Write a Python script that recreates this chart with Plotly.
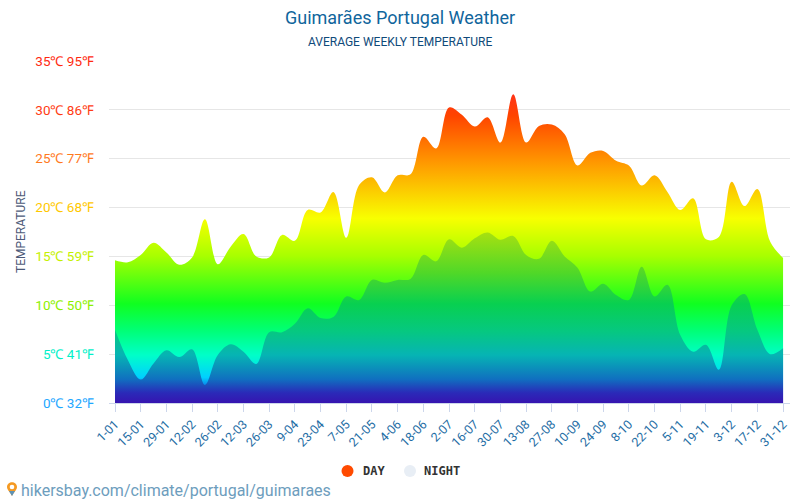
import plotly.graph_objects as go

weeks = ["1-01", "8-01", "15-01", "22-01", "29-01", "5-02", "12-02", "19-02", "26-02", "5-03",
         "12-03", "19-03", "26-03", "2-04", "9-04", "16-04", "23-04", "30-04", "7-05", "14-05",
         "21-05", "28-05", "4-06", "11-06", "18-06", "25-06", "2-07", "9-07", "16-07", "23-07",
         "30-07", "6-08", "13-08", "20-08", "27-08", "3-09", "10-09", "17-09", "24-09", "1-10",
         "8-10", "15-10", "22-10", "29-10", "5-11", "12-11", "19-11", "26-11", "3-12", "10-12",
         "17-12", "24-12", "31-12"]

day = [14.6, 14.4, 15.15, 16.4, 15.4, 14.15, 14.9, 18.8, 14.2, 16.0,
       17.3, 15.0, 14.9, 17.2, 16.6, 19.75, 19.5, 21.6, 16.9, 22.3,
       23.1, 21.55, 23.3, 23.4, 27.25, 26.05, 30.25, 29.5, 28.3, 29.25,
       26.65, 31.6, 26.65, 28.35, 28.5, 27.5, 24.3, 25.6, 25.8, 24.8,
       24.3, 22.25, 23.3, 21.6, 19.75, 20.95, 16.75, 17.0, 22.65, 20.15,
       21.9, 16.5, 14.85]

night = [7.5, 4.4, 2.4, 4.05, 5.4, 4.7, 5.5, 1.85, 4.9, 6.0,
         5.25, 4.0, 7.25, 7.25, 8.1, 9.7, 8.7, 8.8, 10.9, 10.55,
         12.6, 12.3, 12.6, 12.7, 15.15, 14.5, 16.75, 15.9, 16.85, 17.45,
         16.7, 17.1, 15.15, 14.75, 16.6, 15.0, 13.85, 11.4, 12.2, 11.05,
         10.55, 13.95, 10.9, 12.1, 6.95, 5.25, 5.95, 3.4, 10.0, 11.15,
         7.5, 5.0, 5.6]

temp_ticks = [0, 5, 10, 15, 20, 25, 30, 35]
temp_labels = ["0℃ 32℉", "5℃ 41℉", "10℃ 50℉", "15℃ 59℉", "20℃ 68℉", "25℃ 77℉", "30℃ 86℉", "35℃ 95℉"]
temp_colors = ["#1ea7ff", "#00f0c8", "#8cf000", "#c4f000", "#ffc800", "#ff7a1e", "#ff3c14", "#ff2a10"]

# plot area in page pixels
LEFT, RIGHT, TOP, BOTTOM = 109, 790, 61, 403

def px(x):
    return (x - LEFT) / (RIGHT - LEFT)

def py(y):
    return (BOTTOM - y) / (BOTTOM - TOP)

def label(text, x, y, size, color, family="Roboto", xanchor="center", angle=0, weight="normal"):
    return dict(text=text, x=px(x), y=py(y), xref="paper", yref="paper", showarrow=False, textangle=angle,
                xanchor=xanchor, yanchor="middle", font=dict(size=size, color=color, family=family, weight=weight))

def dot(x, y, r, color):
    return dict(type="circle", xref="paper", yref="paper", line=dict(width=0), fillcolor=color,
                x0=px(x - r), x1=px(x + r), y0=py(y + r), y1=py(y - r))

day_scale = [[0, "#3a14b4"], [0.04, "#1060e0"], [0.075, "#00d0ff"], [0.14, "#00ffc8"], [0.21, "#00ff78"],
             [0.29, "#10ff20"], [0.43, "#a8ff00"], [0.54, "#f8ff00"], [0.71, "#ff9400"],
             [0.84, "#ff4400"], [1, "#ff1a3c"]]
night_scale = [[0, "#3614b0"], [0.03, "#2a2ab8"], [0.07, "#1070c0"], [0.14, "#06b4b4"], [0.21, "#06c880"],
               [0.29, "#08d050"], [0.38, "#50d828"], [0.5, "#a8e010"], [1, "#a8e010"]]

fig = go.Figure()
fig.add_trace(go.Scatter(x=weeks, y=day, mode="lines", name="DAY", line=dict(width=0, shape="spline", smoothing=1.0),
                         fill="tozeroy", fillgradient=dict(type="vertical", colorscale=day_scale, start=0, stop=35),
                         showlegend=False, hoverinfo="skip"))
fig.add_trace(go.Scatter(x=weeks, y=night, mode="lines", name="NIGHT", line=dict(width=0, shape="spline", smoothing=1.0),
                         fill="tozeroy", fillgradient=dict(type="vertical", colorscale=night_scale, start=0, stop=35),
                         showlegend=False, hoverinfo="skip"))

fig.update_layout(
    width=800, height=500,
    margin=dict(l=LEFT, r=800 - RIGHT, t=TOP, b=500 - BOTTOM),
    paper_bgcolor="white", plot_bgcolor="white",
    font=dict(family="Roboto"),
    title=dict(text="Guimarães Portugal Weather", x=0.5, xanchor="center", y=1 - 18 / 500, yanchor="middle",
               font=dict(size=18, color="#10659c", family="Roboto")),
    annotations=[
        label("AVERAGE WEEKLY TEMPERATURE", 400, 42, 12, "#0f4a7a"),
        label("TEMPERATURE", 21, 232, 12, "#4d5a78", angle=-90),
        label("hikersbay.com/climate/portugal/guimaraes", 18.5, 490, 16, "#6d9dbd", xanchor="left"),
        # native legend swatches sit too far from their text, so the legend is placed by hand
        label("DAY", 361, 471, 12, "#333333", family="DejaVu Sans Mono", xanchor="left", weight="bold"),
        label("NIGHT", 422, 471, 12, "#333333", family="DejaVu Sans Mono", xanchor="left", weight="bold"),
    ],
    shapes=[
        dot(347.5, 471, 6, "#ff4a00"),
        dot(410, 471, 6, "#e8eef5"),
        # map pin next to the footer link
        dict(type="path", xref="paper", yref="paper", line=dict(width=0), fillcolor="#f59a23",
             path=f"M {px(7)} {py(487)} C {px(7)} {py(480.5)}, {px(17)} {py(480.5)}, {px(17)} {py(487)} "
                  f"C {px(17)} {py(490)}, {px(13)} {py(493)}, {px(12)} {py(496)} "
                  f"C {px(11)} {py(493)}, {px(7)} {py(490)}, {px(7)} {py(487)} Z"),
        dict(type="path", xref="paper", yref="paper", line=dict(width=0), fillcolor="#5f93b5",
             path=f"M {px(9)} {py(491)} L {px(15)} {py(491)} L {px(12)} {py(496)} Z"),
        dot(12, 487, 2.3, "white"),
    ],
)

fig.update_xaxes(type="category", range=[-0.467, 52.54], tickmode="array",
                 tickvals=weeks[::2], ticktext=weeks[::2], tickangle=-45,
                 tickfont=dict(size=12.5, color="#1f6ea5", family="Roboto"),
                 ticks="outside", ticklen=8, tickcolor="#ccd6eb", tickwidth=1,
                 showline=True, linecolor="#ccd6eb", linewidth=1, showgrid=False, zeroline=False)
fig.update_yaxes(range=[0, 35], tickmode="array", tickvals=temp_ticks,
                 ticktext=[f'<span style="color:{c}">{t}</span>' for t, c in zip(temp_labels, temp_colors)],
                 tickfont=dict(size=13.5, family="Roboto"), ticklabelstandoff=14,
                 showgrid=True, gridcolor="#e6e6e6", gridwidth=1, zeroline=False, showline=False)

# default page has an 8px body margin that would push everything off
fig.write_html("out.html", post_script="document.body.style.margin='0';", config={"displayModeBar": False})
